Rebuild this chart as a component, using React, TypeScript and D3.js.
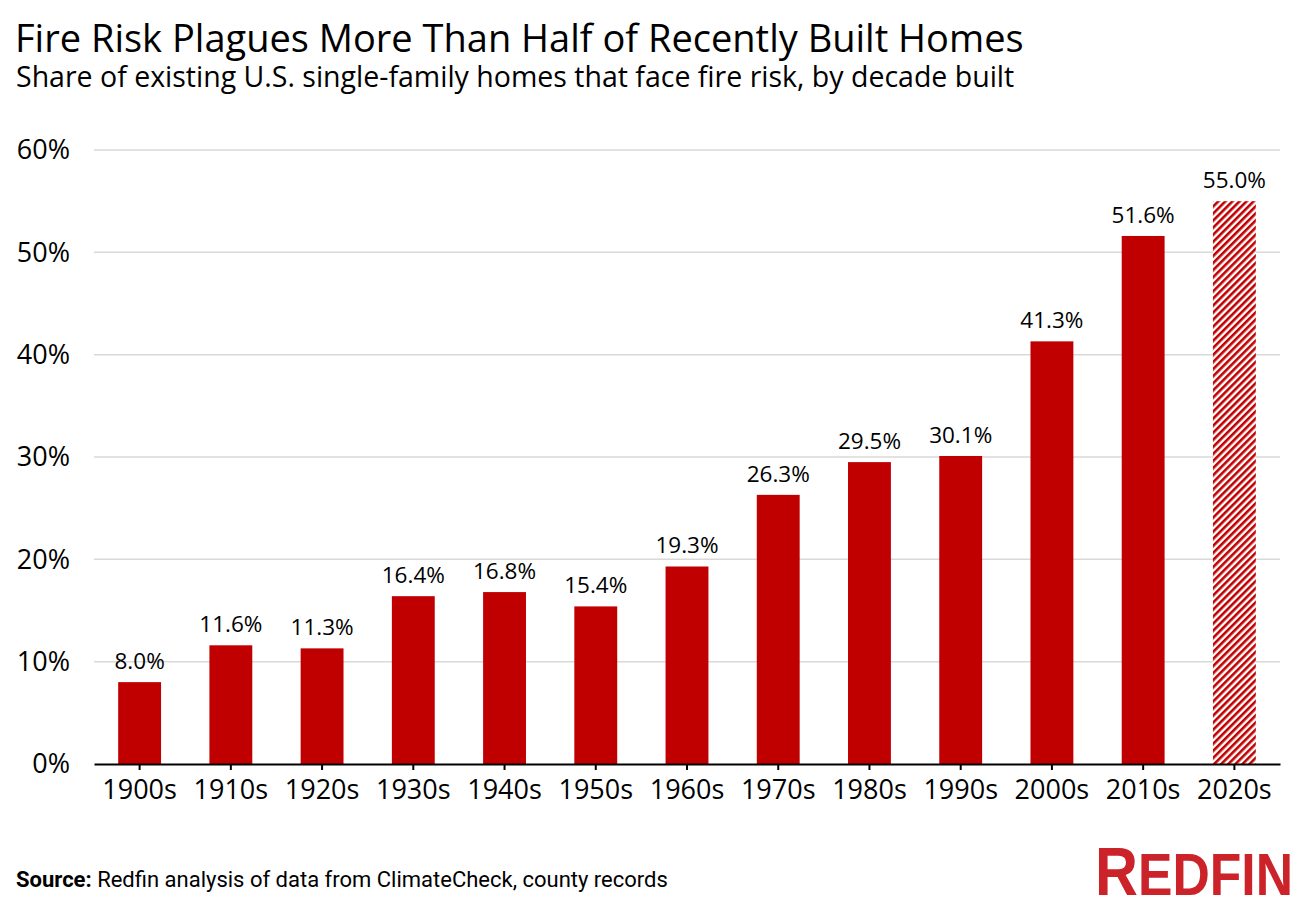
import React, { useRef, useEffect } from 'react';
import * as d3 from 'd3';

const decades = ['1900s', '1910s', '1920s', '1930s', '1940s', '1950s', '1960s', '1970s', '1980s', '1990s', '2000s', '2010s', '2020s'];
const shares = [8.0, 11.6, 11.3, 16.4, 16.8, 15.4, 19.3, 26.3, 29.5, 30.1, 41.3, 51.6, 55.0];
const yTicks = [0, 10, 20, 30, 40, 50, 60];
// the current decade is still in progress, so it gets a hatched fill
const partialDecade = '2020s';

const width = 1300;
const height = 899;
const margin = { top: 150, right: 20, bottom: 135, left: 94 };
const red = '#c00000';
const font = '"Open Sans", Lato, sans-serif';

function App() {
  const canvas = useRef<SVGSVGElement>(null);

  useEffect(() => {
    document.body.style.margin = '0';
    const svg = d3.select(canvas.current);
    svg.selectAll('*').remove();

    const chartWidth = width - margin.left - margin.right;
    const chartHeight = height - margin.top - margin.bottom;

    const xScale = d3.scaleBand().domain(decades).range([0, chartWidth]).paddingInner(0.53).paddingOuter(0.265);
    const yScale = d3.scaleLinear().domain([0, 60]).range([chartHeight, 0]);

    const defs = svg.append('defs');
    const pattern = defs.append('pattern')
      .attr('id', 'hatch')
      .attr('patternUnits', 'userSpaceOnUse')
      .attr('width', 5)
      .attr('height', 5)
      .attr('patternTransform', 'rotate(45)');
    pattern.append('rect').attr('width', 5).attr('height', 5).attr('fill', '#fff');
    pattern.append('rect').attr('width', 2.6).attr('height', 5).attr('fill', red);

    svg.append('text')
      .attr('x', 15).attr('y', 52)
      .attr('font-family', font).attr('font-size', 38).attr('fill', '#000')
      .text('Fire Risk Plagues More Than Half of Recently Built Homes');
    svg.append('text')
      .attr('x', 16).attr('y', 87)
      .attr('font-family', font).attr('font-size', 28.5).attr('fill', '#000')
      .text('Share of existing U.S. single-family homes that face fire risk, by decade built');

    const g = svg.append('g').attr('transform', `translate(${margin.left}, ${margin.top})`);

    // gridlines + y labels
    g.selectAll('line.grid')
      .data(yTicks.filter(t => t > 0))
      .enter().append('line')
      .attr('class', 'grid')
      .attr('x1', 0).attr('x2', chartWidth)
      .attr('y1', d => yScale(d)).attr('y2', d => yScale(d))
      .attr('stroke', '#d9d9d9').attr('stroke-width', 1.5);

    g.selectAll('text.ylab')
      .data(yTicks)
      .enter().append('text')
      .attr('class', 'ylab')
      .attr('x', -24).attr('y', d => yScale(d))
      .attr('dy', '0.35em')
      .attr('text-anchor', 'end')
      .attr('font-family', font).attr('font-size', 27).attr('fill', '#000')
      .text(d => `${d}%`);

    g.selectAll('rect.bar')
      .data(shares)
      .enter().append('rect')
      .attr('class', 'bar')
      .attr('x', (d, i) => xScale(decades[i]) as number)
      .attr('y', d => yScale(d))
      .attr('width', xScale.bandwidth())
      .attr('height', d => chartHeight - yScale(d))
      .attr('fill', (d, i) => (decades[i] === partialDecade ? 'url(#hatch)' : red));

    g.selectAll('text.value')
      .data(shares)
      .enter().append('text')
      .attr('class', 'value')
      .attr('x', (d, i) => (xScale(decades[i]) as number) + xScale.bandwidth() / 2)
      .attr('y', d => yScale(d) - 13)
      .attr('text-anchor', 'middle')
      .attr('font-family', font).attr('font-size', 22.5).attr('fill', '#000')
      .text(d => `${d.toFixed(1)}%`);

    const xAxis = g.append('g')
      .attr('transform', `translate(0, ${chartHeight})`)
      .call(d3.axisBottom(xScale).tickSize(6).tickPadding(10).tickSizeOuter(0));
    xAxis.select('.domain').attr('stroke', '#000').attr('stroke-width', 2);
    xAxis.selectAll('.tick line').attr('stroke', '#000').attr('stroke-width', 2);
    xAxis.selectAll('.tick text')
      .attr('font-family', font).attr('font-size', 27).attr('fill', '#000');

    svg.append('text')
      .attr('x', 16).attr('y', 887)
      .attr('font-family', '"Liberation Sans Narrow", "Roboto", sans-serif')
      .attr('font-size', 22).attr('fill', '#000')
      .call(t => {
        t.append('tspan').attr('font-weight', 'bold').text('Source:');
        t.append('tspan').text(' Redfin analysis of data from ClimateCheck, county records');
      });

    // wordmark
    const logo = svg.append('text')
      .attr('x', 1095).attr('y', 895)
      .attr('textLength', 198)
      .attr('lengthAdjust', 'spacingAndGlyphs')
      .attr('font-family', '"Liberation Sans Narrow", "Liberation Sans", sans-serif')
      .attr('font-weight', 'bold')
      .attr('fill', '#cc2229');
    logo.append('tspan').attr('font-size', 69).text('R');
    logo.append('tspan').attr('font-size', 60).text('EDFIN');
  }, []);

  return (
    <svg ref={canvas} width={width} height={height} style={{ display: 'block', background: '#fff' }} />
  );
}

export default App;
